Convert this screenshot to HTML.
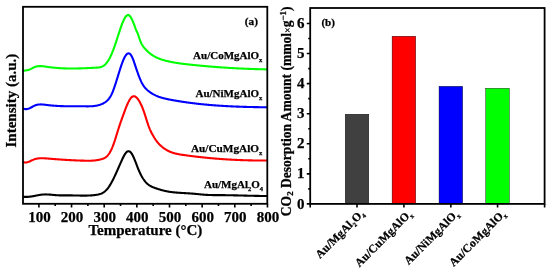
<!DOCTYPE html>
<html><head><meta charset="utf-8"><style>
html,body{margin:0;padding:0;background:#fff;width:550px;height:272px;overflow:hidden}
svg{display:block}
</style></head><body>
<svg width="550" height="272" viewBox="0 0 550 272">
<defs><clipPath id="ca"><rect x="23.00" y="6.80" width="244.30" height="197.00"/></clipPath></defs>
<g clip-path="url(#ca)" fill="none" stroke-width="2.1" stroke-linejoin="round" stroke-linecap="round">
<path d="M23,196.79 23.50,196.79 24,196.82 24.50,196.86 25,196.89 25.50,196.91 26,196.92 26.50,196.92 27,196.91 27.50,196.88 28,196.86 28.50,196.82 29,196.77 29.50,196.72 30,196.66 30.50,196.60 31,196.53 31.50,196.45 32,196.37 32.50,196.29 33,196.20 33.50,196.11 34,196.01 34.50,195.92 35,195.82 35.50,195.73 36,195.63 36.50,195.53 37,195.44 37.50,195.34 38,195.25 38.50,195.16 39,195.07 39.50,194.98 40,194.90 40.50,194.83 41,194.76 41.50,194.69 42,194.63 42.50,194.58 43,194.53 43.50,194.49 44,194.46 44.50,194.44 45,194.43 45.50,194.42 46,194.42 46.50,194.43 47,194.44 47.50,194.46 48,194.48 48.50,194.51 49,194.55 49.50,194.58 50,194.62 50.50,194.66 51,194.71 51.50,194.75 52,194.80 52.50,194.85 53,194.90 53.50,194.95 54,194.99 54.50,195.04 55,195.08 55.50,195.13 56,195.17 56.50,195.20 57,195.24 57.50,195.27 58,195.29 58.50,195.32 59,195.34 59.50,195.35 60,195.37 60.50,195.38 61,195.39 61.50,195.40 62,195.40 62.50,195.40 63,195.41 63.50,195.41 64,195.41 64.50,195.41 65,195.40 65.50,195.40 66,195.40 66.50,195.40 67,195.39 67.50,195.39 68,195.39 68.50,195.39 69,195.39 69.50,195.39 70,195.39 70.50,195.40 71,195.40 71.50,195.41 72,195.41 72.50,195.42 73,195.43 73.50,195.44 74,195.45 74.50,195.46 75,195.47 75.50,195.48 76,195.49 76.50,195.50 77,195.52 77.50,195.53 78,195.54 78.50,195.55 79,195.56 79.50,195.57 80,195.58 80.50,195.59 81,195.59 81.50,195.60 82,195.61 82.50,195.61 83,195.61 83.50,195.61 84,195.61 84.50,195.61 85,195.61 85.50,195.60 86,195.60 86.50,195.59 87,195.58 87.50,195.56 88,195.55 88.50,195.53 89,195.51 89.50,195.49 90,195.46 90.50,195.43 91,195.40 91.50,195.36 92,195.33 92.50,195.29 93,195.24 93.50,195.19 94,195.14 94.50,195.09 95,195.03 95.50,194.96 96,194.90 96.50,194.83 97,194.75 97.50,194.66 98,194.57 98.50,194.46 99,194.34 99.50,194.21 100,194.05 100.50,193.88 101,193.69 101.50,193.48 102,193.24 102.50,192.98 103,192.69 103.50,192.37 104,192.03 104.50,191.65 105,191.24 105.50,190.80 106,190.33 106.50,189.82 107,189.27 107.50,188.69 108,188.06 108.50,187.39 109,186.68 109.50,185.93 110,185.14 110.50,184.31 111,183.44 111.50,182.55 112,181.62 112.50,180.66 113,179.68 113.50,178.67 114,177.64 114.50,176.59 115,175.52 115.50,174.44 116,173.34 116.50,172.23 117,171.11 117.50,169.98 118,168.85 118.50,167.72 119,166.58 119.50,165.44 120,164.31 120.50,163.19 121,162.07 121.50,160.96 122,159.86 122.50,158.78 123,157.73 123.50,156.72 124,155.77 124.50,154.87 125,154.05 125.50,153.32 126,152.68 126.50,152.14 127,151.72 127.50,151.42 128,151.24 128.50,151.19 129,151.25 129.50,151.43 130,151.73 130.50,152.15 131,152.69 131.50,153.35 132,154.13 132.50,155.01 133,155.99 133.50,157.05 134,158.19 134.50,159.38 135,160.62 135.50,161.89 136,163.18 136.50,164.49 137,165.79 137.50,167.07 138,168.32 138.50,169.54 139,170.72 139.50,171.86 140,172.96 140.50,174.01 141,175.01 141.50,175.96 142,176.86 142.50,177.71 143,178.51 143.50,179.26 144,179.97 144.50,180.64 145,181.27 145.50,181.86 146,182.41 146.50,182.92 147,183.41 147.50,183.86 148,184.28 148.50,184.67 149,185.03 149.50,185.37 150,185.69 150.50,185.98 151,186.26 151.50,186.52 152,186.76 152.50,186.98 153,187.20 153.50,187.40 154,187.60 154.50,187.78 155,187.97 155.50,188.15 156,188.32 156.50,188.49 157,188.66 157.50,188.83 158,188.99 158.50,189.15 159,189.30 159.50,189.46 160,189.61 160.50,189.75 161,189.90 161.50,190.04 162,190.17 162.50,190.30 163,190.43 163.50,190.56 164,190.68 164.50,190.80 165,190.91 165.50,191.02 166,191.13 166.50,191.23 167,191.33 167.50,191.43 168,191.52 168.50,191.61 169,191.69 169.50,191.77 170,191.85 170.50,191.92 171,192.00 171.50,192.06 172,192.13 172.50,192.19 173,192.25 173.50,192.31 174,192.36 174.50,192.41 175,192.46 175.50,192.51 176,192.55 176.50,192.59 177,192.64 177.50,192.67 178,192.71 178.50,192.75 179,192.78 179.50,192.82 180,192.85 180.50,192.88 181,192.91 181.50,192.94 182,192.97 182.50,193.00 183,193.03 183.50,193.05 184,193.08 184.50,193.11 185,193.13 185.50,193.16 186,193.19 186.50,193.22 187,193.25 187.50,193.27 188,193.30 188.50,193.33 189,193.37 189.50,193.40 190,193.43 190.50,193.47 191,193.50 191.50,193.54 192,193.58 192.50,193.62 193,193.66 193.50,193.71 194,193.75 194.50,193.80 195,193.84 195.50,193.89 196,193.94 196.50,193.98 197,194.03 197.50,194.08 198,194.13 198.50,194.18 199,194.23 199.50,194.28 200,194.33 200.50,194.37 201,194.42 201.50,194.47 202,194.51 202.50,194.56 203,194.60 203.50,194.64 204,194.68 204.50,194.72 205,194.76 205.50,194.80 206,194.83 206.50,194.87 207,194.90 207.50,194.92 208,194.95 208.50,194.97 209,194.99 209.50,195.01 210,195.03 210.50,195.04 211,195.06 211.50,195.07 212,195.07 212.50,195.08 213,195.09 213.50,195.09 214,195.10 214.50,195.10 215,195.10 215.50,195.10 216,195.10 216.50,195.11 217,195.11 217.50,195.11 218,195.11 218.50,195.11 219,195.11 219.50,195.12 220,195.12 220.50,195.12 221,195.13 221.50,195.13 222,195.14 222.50,195.14 223,195.15 223.50,195.15 224,195.16 224.50,195.17 225,195.17 225.50,195.18 226,195.19 226.50,195.19 227,195.20 227.50,195.21 228,195.22 228.50,195.23 229,195.24 229.50,195.25 230,195.26 230.50,195.27 231,195.28 231.50,195.29 232,195.30 232.50,195.31 233,195.32 233.50,195.33 234,195.34 234.50,195.35 235,195.36 235.50,195.38 236,195.39 236.50,195.40 237,195.41 237.50,195.42 238,195.44 238.50,195.45 239,195.46 239.50,195.47 240,195.49 240.50,195.50 241,195.51 241.50,195.52 242,195.54 242.50,195.55 243,195.56 243.50,195.57 244,195.59 244.50,195.60 245,195.61 245.50,195.63 246,195.64 246.50,195.65 247,195.66 247.50,195.68 248,195.69 248.50,195.70 249,195.71 249.50,195.72 250,195.74 250.50,195.75 251,195.76 251.50,195.77 252,195.78 252.50,195.79 253,195.80 253.50,195.81 254,195.82 254.50,195.84 255,195.85 255.50,195.86 256,195.86 256.50,195.87 257,195.88 257.50,195.89 258,195.90 258.50,195.91 259,195.92 259.50,195.93 260,195.93 260.50,195.94 261,195.95 261.50,195.95 262,195.96 262.50,195.97 263,195.97 263.50,195.98 264,195.98 264.50,195.99 265,195.99 265.50,195.99 266,196.00 266.50,196.00 267,196.00 267.50,196.00 268,196.00" stroke="#000"/>
<path d="M23,162.19 23.50,162.19 24,162.28 24.50,162.39 25,162.45 25.50,162.47 26,162.44 26.50,162.38 27,162.29 27.50,162.17 28,162.02 28.50,161.85 29,161.66 29.50,161.45 30,161.24 30.50,161.01 31,160.77 31.50,160.54 32,160.31 32.50,160.08 33,159.86 33.50,159.65 34,159.45 34.50,159.27 35,159.11 35.50,158.97 36,158.84 36.50,158.72 37,158.62 37.50,158.53 38,158.45 38.50,158.39 39,158.33 39.50,158.29 40,158.26 40.50,158.23 41,158.22 41.50,158.21 42,158.21 42.50,158.22 43,158.23 43.50,158.25 44,158.28 44.50,158.30 45,158.34 45.50,158.37 46,158.41 46.50,158.45 47,158.49 47.50,158.53 48,158.57 48.50,158.61 49,158.65 49.50,158.69 50,158.74 50.50,158.78 51,158.82 51.50,158.86 52,158.90 52.50,158.93 53,158.97 53.50,159.01 54,159.05 54.50,159.09 55,159.13 55.50,159.17 56,159.20 56.50,159.24 57,159.28 57.50,159.31 58,159.35 58.50,159.39 59,159.42 59.50,159.46 60,159.49 60.50,159.53 61,159.56 61.50,159.60 62,159.63 62.50,159.66 63,159.70 63.50,159.73 64,159.76 64.50,159.79 65,159.83 65.50,159.86 66,159.89 66.50,159.92 67,159.95 67.50,159.98 68,160.01 68.50,160.03 69,160.06 69.50,160.09 70,160.12 70.50,160.14 71,160.17 71.50,160.20 72,160.22 72.50,160.25 73,160.27 73.50,160.30 74,160.32 74.50,160.34 75,160.36 75.50,160.39 76,160.41 76.50,160.43 77,160.45 77.50,160.47 78,160.49 78.50,160.51 79,160.52 79.50,160.54 80,160.56 80.50,160.58 81,160.59 81.50,160.61 82,160.62 82.50,160.64 83,160.65 83.50,160.66 84,160.67 84.50,160.68 85,160.70 85.50,160.71 86,160.71 86.50,160.72 87,160.73 87.50,160.73 88,160.74 88.50,160.74 89,160.73 89.50,160.73 90,160.72 90.50,160.71 91,160.69 91.50,160.68 92,160.65 92.50,160.63 93,160.60 93.50,160.56 94,160.52 94.50,160.48 95,160.43 95.50,160.37 96,160.31 96.50,160.24 97,160.16 97.50,160.08 98,159.99 98.50,159.90 99,159.80 99.50,159.69 100,159.57 100.50,159.44 101,159.31 101.50,159.16 102,159.01 102.50,158.85 103,158.67 103.50,158.48 104,158.26 104.50,158.01 105,157.73 105.50,157.42 106,157.06 106.50,156.65 107,156.19 107.50,155.68 108,155.11 108.50,154.47 109,153.77 109.50,152.99 110,152.16 110.50,151.25 111,150.28 111.50,149.23 112,148.12 112.50,146.94 113,145.68 113.50,144.36 114,142.96 114.50,141.49 115,139.95 115.50,138.37 116,136.75 116.50,135.12 117,133.48 117.50,131.87 118,130.27 118.50,128.71 119,127.17 119.50,125.65 120,124.16 120.50,122.70 121,121.26 121.50,119.84 122,118.44 122.50,117.05 123,115.66 123.50,114.28 124,112.91 124.50,111.55 125,110.20 125.50,108.89 126,107.60 126.50,106.36 127,105.16 127.50,104.01 128,102.92 128.50,101.88 129,100.92 129.50,100.03 130,99.23 130.50,98.50 131,97.87 131.50,97.34 132,96.91 132.50,96.59 133,96.38 133.50,96.26 134,96.25 134.50,96.34 135,96.51 135.50,96.77 136,97.12 136.50,97.54 137,98.04 137.50,98.61 138,99.24 138.50,99.95 139,100.72 139.50,101.55 140,102.45 140.50,103.42 141,104.45 141.50,105.55 142,106.70 142.50,107.93 143,109.21 143.50,110.56 144,111.97 144.50,113.44 145,114.97 145.50,116.54 146,118.14 146.50,119.74 147,121.32 147.50,122.88 148,124.38 148.50,125.82 149,127.16 149.50,128.42 150,129.60 150.50,130.69 151,131.72 151.50,132.70 152,133.65 152.50,134.58 153,135.48 153.50,136.35 154,137.20 154.50,138.02 155,138.80 155.50,139.56 156,140.27 156.50,140.95 157,141.60 157.50,142.23 158,142.82 158.50,143.39 159,143.93 159.50,144.45 160,144.94 160.50,145.42 161,145.88 161.50,146.32 162,146.75 162.50,147.16 163,147.56 163.50,147.94 164,148.30 164.50,148.66 165,149.00 165.50,149.32 166,149.63 166.50,149.93 167,150.22 167.50,150.49 168,150.76 168.50,151.01 169,151.25 169.50,151.48 170,151.70 170.50,151.91 171,152.10 171.50,152.30 172,152.48 172.50,152.65 173,152.81 173.50,152.97 174,153.12 174.50,153.26 175,153.40 175.50,153.52 176,153.65 176.50,153.76 177,153.87 177.50,153.98 178,154.08 178.50,154.18 179,154.27 179.50,154.36 180,154.45 180.50,154.53 181,154.61 181.50,154.69 182,154.76 182.50,154.84 183,154.91 183.50,154.98 184,155.05 184.50,155.12 185,155.19 185.50,155.26 186,155.33 186.50,155.40 187,155.47 187.50,155.54 188,155.61 188.50,155.67 189,155.74 189.50,155.80 190,155.87 190.50,155.93 191,156.00 191.50,156.06 192,156.13 192.50,156.19 193,156.25 193.50,156.31 194,156.38 194.50,156.44 195,156.50 195.50,156.56 196,156.62 196.50,156.68 197,156.74 197.50,156.79 198,156.85 198.50,156.91 199,156.97 199.50,157.02 200,157.08 200.50,157.13 201,157.19 201.50,157.24 202,157.30 202.50,157.35 203,157.40 203.50,157.46 204,157.51 204.50,157.56 205,157.61 205.50,157.66 206,157.71 206.50,157.76 207,157.81 207.50,157.86 208,157.91 208.50,157.96 209,158.00 209.50,158.05 210,158.10 210.50,158.14 211,158.19 211.50,158.23 212,158.28 212.50,158.32 213,158.37 213.50,158.41 214,158.45 214.50,158.50 215,158.54 215.50,158.58 216,158.62 216.50,158.66 217,158.70 217.50,158.74 218,158.78 218.50,158.82 219,158.86 219.50,158.89 220,158.93 220.50,158.97 221,159.01 221.50,159.04 222,159.08 222.50,159.11 223,159.15 223.50,159.18 224,159.21 224.50,159.25 225,159.28 225.50,159.31 226,159.35 226.50,159.38 227,159.41 227.50,159.44 228,159.47 228.50,159.50 229,159.53 229.50,159.56 230,159.59 230.50,159.61 231,159.64 231.50,159.67 232,159.70 232.50,159.72 233,159.75 233.50,159.77 234,159.80 234.50,159.82 235,159.85 235.50,159.87 236,159.90 236.50,159.92 237,159.94 237.50,159.96 238,159.98 238.50,160.01 239,160.03 239.50,160.05 240,160.07 240.50,160.09 241,160.11 241.50,160.12 242,160.14 242.50,160.16 243,160.18 243.50,160.19 244,160.21 244.50,160.23 245,160.24 245.50,160.26 246,160.27 246.50,160.29 247,160.30 247.50,160.32 248,160.33 248.50,160.34 249,160.35 249.50,160.37 250,160.38 250.50,160.39 251,160.40 251.50,160.41 252,160.42 252.50,160.43 253,160.44 253.50,160.45 254,160.46 254.50,160.46 255,160.47 255.50,160.48 256,160.48 256.50,160.49 257,160.50 257.50,160.50 258,160.51 258.50,160.51 259,160.52 259.50,160.52 260,160.52 260.50,160.53 261,160.53 261.50,160.53 262,160.53 262.50,160.53 263,160.53 263.50,160.54 264,160.54 264.50,160.54 265,160.54 265.50,160.53 266,160.53 266.50,160.53 267,160.53 267.50,160.53 268,160.53" stroke="#f00"/>
<path d="M23,108.80 23.50,108.80 24,108.89 24.50,109.01 25,109.09 25.50,109.14 26,109.14 26.50,109.11 27,109.05 27.50,108.95 28,108.83 28.50,108.67 29,108.49 29.50,108.28 30,108.05 30.50,107.80 31,107.54 31.50,107.26 32,106.98 32.50,106.71 33,106.43 33.50,106.17 34,105.91 34.50,105.68 35,105.46 35.50,105.27 36,105.11 36.50,104.96 37,104.83 37.50,104.72 38,104.63 38.50,104.56 39,104.51 39.50,104.46 40,104.44 40.50,104.42 41,104.42 41.50,104.43 42,104.45 42.50,104.48 43,104.52 43.50,104.56 44,104.61 44.50,104.67 45,104.73 45.50,104.79 46,104.85 46.50,104.92 47,104.99 47.50,105.05 48,105.11 48.50,105.17 49,105.23 49.50,105.29 50,105.34 50.50,105.40 51,105.45 51.50,105.49 52,105.54 52.50,105.59 53,105.63 53.50,105.67 54,105.71 54.50,105.75 55,105.78 55.50,105.82 56,105.85 56.50,105.88 57,105.91 57.50,105.94 58,105.97 58.50,106.00 59,106.02 59.50,106.04 60,106.06 60.50,106.08 61,106.10 61.50,106.12 62,106.14 62.50,106.15 63,106.17 63.50,106.18 64,106.20 64.50,106.21 65,106.22 65.50,106.23 66,106.24 66.50,106.25 67,106.25 67.50,106.26 68,106.27 68.50,106.27 69,106.28 69.50,106.28 70,106.28 70.50,106.29 71,106.29 71.50,106.29 72,106.29 72.50,106.29 73,106.30 73.50,106.30 74,106.30 74.50,106.30 75,106.30 75.50,106.30 76,106.30 76.50,106.30 77,106.30 77.50,106.30 78,106.30 78.50,106.30 79,106.29 79.50,106.29 80,106.29 80.50,106.30 81,106.30 81.50,106.30 82,106.30 82.50,106.30 83,106.30 83.50,106.30 84,106.31 84.50,106.31 85,106.31 85.50,106.32 86,106.32 86.50,106.33 87,106.33 87.50,106.33 88,106.33 88.50,106.33 89,106.32 89.50,106.31 90,106.30 90.50,106.29 91,106.27 91.50,106.24 92,106.21 92.50,106.18 93,106.14 93.50,106.09 94,106.04 94.50,105.98 95,105.91 95.50,105.83 96,105.75 96.50,105.66 97,105.55 97.50,105.44 98,105.32 98.50,105.19 99,105.05 99.50,104.89 100,104.73 100.50,104.55 101,104.36 101.50,104.16 102,103.94 102.50,103.71 103,103.47 103.50,103.21 104,102.93 104.50,102.64 105,102.34 105.50,102.00 106,101.64 106.50,101.24 107,100.81 107.50,100.34 108,99.81 108.50,99.24 109,98.61 109.50,97.92 110,97.16 110.50,96.34 111,95.44 111.50,94.47 112,93.41 112.50,92.26 113,91.03 113.50,89.73 114,88.36 114.50,86.93 115,85.45 115.50,83.93 116,82.37 116.50,80.77 117,79.16 117.50,77.54 118,75.90 118.50,74.27 119,72.65 119.50,71.04 120,69.45 120.50,67.90 121,66.39 121.50,64.92 122,63.51 122.50,62.16 123,60.87 123.50,59.67 124,58.55 124.50,57.52 125,56.59 125.50,55.76 126,55.05 126.50,54.46 127,53.99 127.50,53.65 128,53.43 128.50,53.35 129,53.41 129.50,53.61 130,53.95 130.50,54.45 131,55.09 131.50,55.89 132,56.85 132.50,57.95 133,59.16 133.50,60.48 134,61.87 134.50,63.33 135,64.82 135.50,66.33 136,67.84 136.50,69.33 137,70.80 137.50,72.24 138,73.65 138.50,75.02 139,76.34 139.50,77.62 140,78.85 140.50,80.02 141,81.13 141.50,82.17 142,83.15 142.50,84.05 143,84.89 143.50,85.67 144,86.39 144.50,87.07 145,87.69 145.50,88.27 146,88.81 146.50,89.31 147,89.79 147.50,90.23 148,90.65 148.50,91.05 149,91.44 149.50,91.81 150,92.18 150.50,92.52 151,92.86 151.50,93.19 152,93.50 152.50,93.80 153,94.10 153.50,94.38 154,94.65 154.50,94.91 155,95.16 155.50,95.40 156,95.64 156.50,95.86 157,96.08 157.50,96.28 158,96.48 158.50,96.67 159,96.86 159.50,97.04 160,97.21 160.50,97.37 161,97.53 161.50,97.68 162,97.83 162.50,97.97 163,98.10 163.50,98.24 164,98.36 164.50,98.48 165,98.60 165.50,98.72 166,98.83 166.50,98.94 167,99.04 167.50,99.15 168,99.25 168.50,99.35 169,99.44 169.50,99.54 170,99.63 170.50,99.73 171,99.82 171.50,99.91 172,100.01 172.50,100.10 173,100.19 173.50,100.28 174,100.37 174.50,100.45 175,100.54 175.50,100.63 176,100.71 176.50,100.80 177,100.88 177.50,100.97 178,101.05 178.50,101.13 179,101.21 179.50,101.29 180,101.37 180.50,101.45 181,101.53 181.50,101.61 182,101.68 182.50,101.76 183,101.84 183.50,101.91 184,101.98 184.50,102.06 185,102.13 185.50,102.20 186,102.27 186.50,102.34 187,102.42 187.50,102.48 188,102.55 188.50,102.62 189,102.69 189.50,102.76 190,102.82 190.50,102.89 191,102.95 191.50,103.02 192,103.08 192.50,103.14 193,103.20 193.50,103.27 194,103.33 194.50,103.39 195,103.45 195.50,103.51 196,103.57 196.50,103.62 197,103.68 197.50,103.74 198,103.79 198.50,103.85 199,103.90 199.50,103.96 200,104.01 200.50,104.07 201,104.12 201.50,104.17 202,104.22 202.50,104.27 203,104.32 203.50,104.37 204,104.42 204.50,104.47 205,104.52 205.50,104.57 206,104.61 206.50,104.66 207,104.70 207.50,104.75 208,104.80 208.50,104.84 209,104.88 209.50,104.93 210,104.97 210.50,105.01 211,105.05 211.50,105.09 212,105.13 212.50,105.18 213,105.21 213.50,105.25 214,105.29 214.50,105.33 215,105.37 215.50,105.41 216,105.44 216.50,105.48 217,105.51 217.50,105.55 218,105.59 218.50,105.62 219,105.65 219.50,105.69 220,105.72 220.50,105.75 221,105.78 221.50,105.82 222,105.85 222.50,105.88 223,105.91 223.50,105.94 224,105.97 224.50,106.00 225,106.03 225.50,106.05 226,106.08 226.50,106.11 227,106.14 227.50,106.16 228,106.19 228.50,106.22 229,106.24 229.50,106.27 230,106.29 230.50,106.32 231,106.34 231.50,106.36 232,106.39 232.50,106.41 233,106.43 233.50,106.45 234,106.48 234.50,106.50 235,106.52 235.50,106.54 236,106.56 236.50,106.58 237,106.60 237.50,106.62 238,106.64 238.50,106.66 239,106.67 239.50,106.69 240,106.71 240.50,106.73 241,106.74 241.50,106.76 242,106.78 242.50,106.79 243,106.81 243.50,106.83 244,106.84 244.50,106.86 245,106.87 245.50,106.88 246,106.90 246.50,106.91 247,106.93 247.50,106.94 248,106.95 248.50,106.97 249,106.98 249.50,106.99 250,107.00 250.50,107.01 251,107.03 251.50,107.04 252,107.05 252.50,107.06 253,107.07 253.50,107.08 254,107.09 254.50,107.10 255,107.11 255.50,107.12 256,107.13 256.50,107.14 257,107.15 257.50,107.16 258,107.16 258.50,107.17 259,107.18 259.50,107.19 260,107.20 260.50,107.20 261,107.21 261.50,107.22 262,107.23 262.50,107.23 263,107.24 263.50,107.25 264,107.25 264.50,107.26 265,107.26 265.50,107.27 266,107.28 266.50,107.28 267,107.28 267.50,107.28 268,107.28" stroke="#00f"/>
<path d="M23,70.80 23.50,70.80 24,70.72 24.50,70.61 25,70.52 25.50,70.44 26,70.37 26.50,70.30 27,70.22 27.50,70.14 28,70.04 28.50,69.92 29,69.77 29.50,69.59 30,69.38 30.50,69.14 31,68.88 31.50,68.62 32,68.34 32.50,68.07 33,67.81 33.50,67.55 34,67.32 34.50,67.12 35,66.93 35.50,66.77 36,66.62 36.50,66.50 37,66.40 37.50,66.31 38,66.24 38.50,66.19 39,66.15 39.50,66.12 40,66.11 40.50,66.11 41,66.13 41.50,66.15 42,66.18 42.50,66.22 43,66.27 43.50,66.32 44,66.39 44.50,66.45 45,66.52 45.50,66.59 46,66.67 46.50,66.74 47,66.82 47.50,66.89 48,66.96 48.50,67.04 49,67.10 49.50,67.17 50,67.24 50.50,67.30 51,67.36 51.50,67.42 52,67.48 52.50,67.53 53,67.59 53.50,67.64 54,67.69 54.50,67.74 55,67.78 55.50,67.83 56,67.87 56.50,67.91 57,67.95 57.50,67.99 58,68.03 58.50,68.06 59,68.10 59.50,68.13 60,68.16 60.50,68.19 61,68.22 61.50,68.24 62,68.27 62.50,68.29 63,68.31 63.50,68.34 64,68.35 64.50,68.37 65,68.39 65.50,68.40 66,68.42 66.50,68.43 67,68.44 67.50,68.45 68,68.46 68.50,68.47 69,68.48 69.50,68.48 70,68.49 70.50,68.49 71,68.49 71.50,68.49 72,68.49 72.50,68.49 73,68.49 73.50,68.49 74,68.49 74.50,68.48 75,68.48 75.50,68.47 76,68.46 76.50,68.45 77,68.44 77.50,68.43 78,68.42 78.50,68.41 79,68.40 79.50,68.39 80,68.37 80.50,68.36 81,68.34 81.50,68.33 82,68.31 82.50,68.29 83,68.28 83.50,68.26 84,68.24 84.50,68.22 85,68.20 85.50,68.18 86,68.16 86.50,68.14 87,68.12 87.50,68.09 88,68.07 88.50,68.05 89,68.03 89.50,68.00 90,67.98 90.50,67.95 91,67.93 91.50,67.90 92,67.88 92.50,67.85 93,67.83 93.50,67.80 94,67.78 94.50,67.75 95,67.72 95.50,67.70 96,67.67 96.50,67.65 97,67.62 97.50,67.58 98,67.54 98.50,67.48 99,67.42 99.50,67.34 100,67.23 100.50,67.11 101,66.97 101.50,66.80 102,66.59 102.50,66.36 103,66.09 103.50,65.79 104,65.45 104.50,65.06 105,64.63 105.50,64.15 106,63.63 106.50,63.05 107,62.41 107.50,61.72 108,60.97 108.50,60.17 109,59.31 109.50,58.40 110,57.43 110.50,56.42 111,55.35 111.50,54.23 112,53.07 112.50,51.86 113,50.59 113.50,49.29 114,47.94 114.50,46.54 115,45.10 115.50,43.63 116,42.13 116.50,40.61 117,39.07 117.50,37.52 118,35.97 118.50,34.43 119,32.89 119.50,31.37 120,29.87 120.50,28.40 121,26.97 121.50,25.58 122,24.23 122.50,22.95 123,21.73 123.50,20.58 124,19.51 124.50,18.54 125,17.66 125.50,16.90 126,16.25 126.50,15.73 127,15.34 127.50,15.10 128,15.01 128.50,15.07 129,15.30 129.50,15.68 130,16.20 130.50,16.85 131,17.62 131.50,18.51 132,19.50 132.50,20.58 133,21.75 133.50,23.00 134,24.32 134.50,25.70 135,27.10 135.50,28.45 136,29.70 136.50,30.80 137,31.84 137.50,32.95 138,34.24 138.50,35.72 139,37.27 139.50,38.78 140,40.21 140.50,41.51 141,42.67 141.50,43.70 142,44.61 142.50,45.42 143,46.16 143.50,46.84 144,47.48 144.50,48.10 145,48.69 145.50,49.26 146,49.81 146.50,50.33 147,50.83 147.50,51.31 148,51.78 148.50,52.22 149,52.65 149.50,53.06 150,53.45 150.50,53.83 151,54.20 151.50,54.55 152,54.89 152.50,55.22 153,55.53 153.50,55.84 154,56.14 154.50,56.42 155,56.70 155.50,56.96 156,57.22 156.50,57.46 157,57.70 157.50,57.93 158,58.15 158.50,58.36 159,58.56 159.50,58.76 160,58.95 160.50,59.13 161,59.31 161.50,59.48 162,59.64 162.50,59.80 163,59.95 163.50,60.10 164,60.25 164.50,60.38 165,60.52 165.50,60.65 166,60.78 166.50,60.91 167,61.03 167.50,61.15 168,61.27 168.50,61.38 169,61.49 169.50,61.60 170,61.71 170.50,61.81 171,61.92 171.50,62.02 172,62.11 172.50,62.21 173,62.30 173.50,62.39 174,62.48 174.50,62.57 175,62.66 175.50,62.74 176,62.82 176.50,62.90 177,62.98 177.50,63.06 178,63.13 178.50,63.21 179,63.28 179.50,63.35 180,63.42 180.50,63.49 181,63.56 181.50,63.62 182,63.69 182.50,63.75 183,63.81 183.50,63.88 184,63.94 184.50,64.00 185,64.05 185.50,64.11 186,64.17 186.50,64.23 187,64.28 187.50,64.34 188,64.39 188.50,64.45 189,64.50 189.50,64.56 190,64.61 190.50,64.66 191,64.72 191.50,64.77 192,64.82 192.50,64.88 193,64.93 193.50,64.98 194,65.03 194.50,65.08 195,65.13 195.50,65.18 196,65.23 196.50,65.28 197,65.33 197.50,65.38 198,65.43 198.50,65.48 199,65.53 199.50,65.58 200,65.62 200.50,65.67 201,65.72 201.50,65.77 202,65.81 202.50,65.86 203,65.90 203.50,65.95 204,66.00 204.50,66.04 205,66.09 205.50,66.13 206,66.17 206.50,66.22 207,66.26 207.50,66.31 208,66.35 208.50,66.39 209,66.43 209.50,66.48 210,66.52 210.50,66.56 211,66.60 211.50,66.64 212,66.68 212.50,66.72 213,66.76 213.50,66.80 214,66.84 214.50,66.88 215,66.92 215.50,66.96 216,67.00 216.50,67.04 217,67.08 217.50,67.11 218,67.15 218.50,67.19 219,67.22 219.50,67.26 220,67.30 220.50,67.33 221,67.37 221.50,67.40 222,67.44 222.50,67.47 223,67.51 223.50,67.54 224,67.57 224.50,67.61 225,67.64 225.50,67.67 226,67.71 226.50,67.74 227,67.77 227.50,67.80 228,67.83 228.50,67.86 229,67.89 229.50,67.93 230,67.96 230.50,67.99 231,68.02 231.50,68.04 232,68.07 232.50,68.10 233,68.13 233.50,68.16 234,68.19 234.50,68.21 235,68.24 235.50,68.27 236,68.29 236.50,68.32 237,68.35 237.50,68.37 238,68.40 238.50,68.42 239,68.45 239.50,68.47 240,68.50 240.50,68.52 241,68.54 241.50,68.57 242,68.59 242.50,68.61 243,68.64 243.50,68.66 244,68.68 244.50,68.70 245,68.72 245.50,68.74 246,68.76 246.50,68.78 247,68.80 247.50,68.82 248,68.84 248.50,68.86 249,68.88 249.50,68.90 250,68.92 250.50,68.94 251,68.95 251.50,68.97 252,68.99 252.50,69.01 253,69.02 253.50,69.04 254,69.05 254.50,69.07 255,69.09 255.50,69.10 256,69.12 256.50,69.13 257,69.14 257.50,69.16 258,69.17 258.50,69.18 259,69.20 259.50,69.21 260,69.22 260.50,69.23 261,69.25 261.50,69.26 262,69.27 262.50,69.28 263,69.29 263.50,69.30 264,69.31 264.50,69.32 265,69.33 265.50,69.34 266,69.35 266.50,69.36 267,69.36 267.50,69.36 268,69.36" stroke="#0f0"/>
</g>
<path d="M38.90,203.80V207.60 M71.55,203.80V207.60 M104.20,203.80V207.60 M136.85,203.80V207.60 M169.50,203.80V207.60 M202.15,203.80V207.60 M234.80,203.80V207.60 M267.45,203.80V207.60 M55.22,203.80V206.00 M87.88,203.80V206.00 M120.53,203.80V206.00 M153.18,203.80V206.00 M185.83,203.80V206.00 M218.48,203.80V206.00 M251.12,203.80V206.00" stroke="#000" stroke-width="1.6" fill="none"/>
<rect x="23.00" y="6.80" width="244.30" height="197.00" fill="none" stroke="#000" stroke-width="1.80"/>
<rect x="345.20" y="114.20" width="23.60" height="89.70" fill="#404040" stroke="#000" stroke-width="0.4"/>
<rect x="392.10" y="36.20" width="23.60" height="167.70" fill="#ff0000" stroke="#000" stroke-width="0.4"/>
<rect x="439.05" y="86.30" width="23.60" height="117.60" fill="#0000ff" stroke="#000" stroke-width="0.4"/>
<rect x="485.75" y="88.30" width="23.60" height="115.60" fill="#00ff00" stroke="#000" stroke-width="0.4"/>
<path d="M310.20,203.90H306.80 M310.20,173.83H306.80 M310.20,143.77H306.80 M310.20,113.70H306.80 M310.20,83.63H306.80 M310.20,53.57H306.80 M310.20,23.50H306.80 M310.20,188.87H308.20 M310.20,158.80H308.20 M310.20,128.73H308.20 M310.20,98.67H308.20 M310.20,68.60H308.20 M310.20,38.53H308.20 M357.00,203.90V207.50 M403.90,203.90V207.50 M450.85,203.90V207.50 M497.55,203.90V207.50 M544.60,203.90V207.50 M310.20,203.90V207.50" stroke="#000" stroke-width="1.6" fill="none"/>
<rect x="310.20" y="8.00" width="234.40" height="195.90" fill="none" stroke="#000" stroke-width="1.80"/>
<g font-family="Liberation Serif, Times New Roman, serif" font-weight="bold" stroke="#000" stroke-width="0.25" fill="#000"><text x="39.40" y="222.3" text-anchor="middle" font-size="15">100</text><text x="72.05" y="222.3" text-anchor="middle" font-size="15">200</text><text x="104.70" y="222.3" text-anchor="middle" font-size="15">300</text><text x="137.35" y="222.3" text-anchor="middle" font-size="15">400</text><text x="170.00" y="222.3" text-anchor="middle" font-size="15">500</text><text x="202.65" y="222.3" text-anchor="middle" font-size="15">600</text><text x="235.30" y="222.3" text-anchor="middle" font-size="15">700</text><text x="267.95" y="222.3" text-anchor="middle" font-size="15">800</text><text x="145.4" y="235.2" text-anchor="middle" font-size="15">Temperature (°C)</text><text transform="translate(16.1,100.6) rotate(-90)" text-anchor="middle" font-size="15">Intensity (a.u.)</text><text x="304.4" y="208.50" text-anchor="end" font-size="15">0</text><text x="304.4" y="178.43" text-anchor="end" font-size="15">1</text><text x="304.4" y="148.37" text-anchor="end" font-size="15">2</text><text x="304.4" y="118.30" text-anchor="end" font-size="15">3</text><text x="304.4" y="88.23" text-anchor="end" font-size="15">4</text><text x="304.4" y="58.17" text-anchor="end" font-size="15">5</text><text x="304.4" y="28.10" text-anchor="end" font-size="15">6</text><text x="258.0" y="25.2" text-anchor="end" font-size="11.3">(a)</text><text x="321.4" y="26.0" font-size="11">(b)</text><text x="193.10" y="59.20" font-size="11.00">Au/CoMgAlO<tspan font-size="6.5" dy="2.6">x</tspan></text><text x="195.50" y="97.00" font-size="11.00">Au/NiMgAlO<tspan font-size="6.5" dy="2.6">x</tspan></text><text x="190.90" y="152.20" font-size="11.25">Au/CuMgAlO<tspan font-size="6.5" dy="2.6">x</tspan></text><text x="263" y="187.6" text-anchor="end" font-size="11">Au/MgAl<tspan font-size="6.5" dy="3">2</tspan><tspan dy="-3">O</tspan><tspan font-size="6.5" dy="3">4</tspan></text><text transform="translate(290.6,216.2) rotate(-90)" font-size="13.55">CO<tspan font-size="9" dy="2.5">2</tspan><tspan dy="-2.5"> Desorption Amount (mmol</tspan><tspan font-size="10" font-weight="normal">×</tspan><tspan>g</tspan><tspan font-size="9" dy="-5">−1</tspan><tspan dy="5">)</tspan></text><text transform="translate(364.80,214.20) rotate(-45)" text-anchor="end" font-size="11.6" letter-spacing="0.15">Au/MgAl<tspan font-size="6.5" dy="2.6">2</tspan><tspan dy="-2.6">O</tspan><tspan font-size="6.5" dy="2.6">4</tspan></text><text transform="translate(412.60,214.40) rotate(-45)" text-anchor="end" font-size="11.6" letter-spacing="0.15">Au/CuMgAlO<tspan font-size="6.5" dy="2.6">x</tspan></text><text transform="translate(459.50,214.40) rotate(-45)" text-anchor="end" font-size="11.6" letter-spacing="0.15">Au/NiMgAlO<tspan font-size="6.5" dy="2.6">x</tspan></text><text transform="translate(506.40,214.40) rotate(-45)" text-anchor="end" font-size="11.6" letter-spacing="0.15">Au/CoMgAlO<tspan font-size="6.5" dy="2.6">x</tspan></text></g>
</svg>
</body></html>
